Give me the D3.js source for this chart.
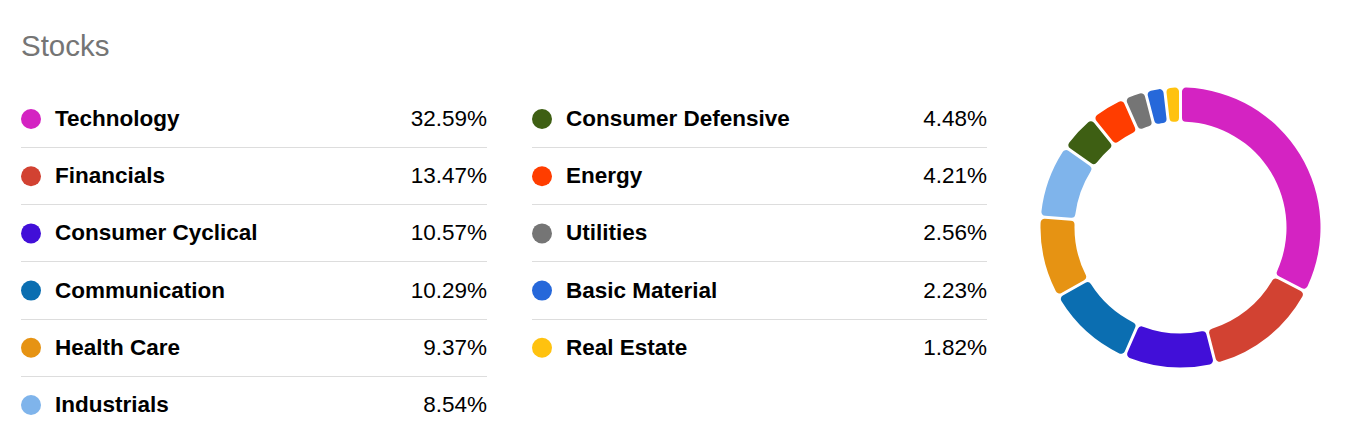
<!DOCTYPE html>
<html lang="en">
  <head>
    <meta charset="UTF-8" />
    <title>Stocks</title>
    <script src="https://d3js.org/d3.v7.min.js"></script>
    <style>
      body {
        margin: 0;
        background: #fff;
        font-family: "Liberation Sans", Arial, sans-serif;
      }
      .sep {
        stroke: #dddddd;
        stroke-width: 1px;
        shape-rendering: crispEdges;
      }
    </style>
  </head>
  <body>
    <script>
      var sectors = [
        "Technology",
        "Financials",
        "Consumer Cyclical",
        "Communication",
        "Health Care",
        "Industrials",
        "Consumer Defensive",
        "Energy",
        "Utilities",
        "Basic Material",
        "Real Estate",
      ];
      var weights = [32.59, 13.47, 10.57, 10.29, 9.37, 8.54, 4.48, 4.21, 2.56, 2.23, 1.82];
      var colors = [
        "#d423c2",
        "#d24232",
        "#410fd8",
        "#0b6eb1",
        "#e69313",
        "#7fb4eb",
        "#3e5f13",
        "#ff3d00",
        "#757575",
        "#2668da",
        "#ffc20f",
      ];

      var width = 1350,
        height = 432;

      var svg = d3
        .select("body")
        .append("svg")
        .attr("width", width)
        .attr("height", height);

      svg
        .append("text")
        .attr("x", 21)
        .attr("y", 56)
        .style("font-size", "29.5px")
        .style("fill", "#757575")
        .text("Stocks");

      // legend: two columns, 6 rows max
      var perCol = 6;
      var cols = [
        { x0: 21, x1: 487 },
        { x0: 532, x1: 987 },
      ];
      var rowY = d3.scaleLinear().domain([0, 1]).range([118.5, 175.7]);

      var items = sectors.map(function (s, i) {
        return {
          name: s,
          value: weights[i],
          color: colors[i],
          col: Math.floor(i / perCol),
          row: i % perCol,
        };
      });

      var counts = [0, 0];
      items.forEach(function (d) {
        counts[d.col]++;
      });

      var row = svg
        .selectAll(".item")
        .data(items)
        .enter()
        .append("g")
        .attr("class", "item")
        .attr("transform", function (d) {
          return "translate(" + cols[d.col].x0 + "," + rowY(d.row) + ")";
        });

      row
        .append("circle")
        .attr("cx", 10)
        .attr("cy", 0.5)
        .attr("r", 10)
        .attr("fill", function (d) {
          return d.color;
        });

      row
        .append("text")
        .attr("x", 34)
        .attr("y", 7.5)
        .style("font-size", "22.5px")
        .style("font-weight", "bold")
        .style("fill", "#000")
        .text(function (d) {
          return d.name;
        });

      row
        .append("text")
        .attr("x", function (d) {
          return cols[d.col].x1 - cols[d.col].x0;
        })
        .attr("y", 7.5)
        .attr("text-anchor", "end")
        .style("font-size", "22.5px")
        .style("fill", "#000")
        .text(function (d) {
          return d.value.toFixed(2) + "%";
        });

      row
        .filter(function (d) {
          return d.row < counts[d.col] - 1;
        })
        .append("line")
        .attr("class", "sep")
        .attr("x1", 0)
        .attr("x2", function (d) {
          return cols[d.col].x1 - cols[d.col].x0;
        })
        .attr("y1", 29)
        .attr("y2", 29);

      // donut
      var pie = d3.pie().sort(null).value(function (d) {
        return d;
      });
      var arc = d3
        .arc()
        .innerRadius(106)
        .outerRadius(140)
        .cornerRadius(4)
        .padAngle(0.017);

      svg
        .append("g")
        .attr("transform", "translate(1180.5,227.5)")
        .selectAll("path")
        .data(pie(weights))
        .enter()
        .append("path")
        .attr("d", arc)
        .attr("fill", function (d, i) {
          return colors[i];
        });
    </script>
  </body>
</html>
